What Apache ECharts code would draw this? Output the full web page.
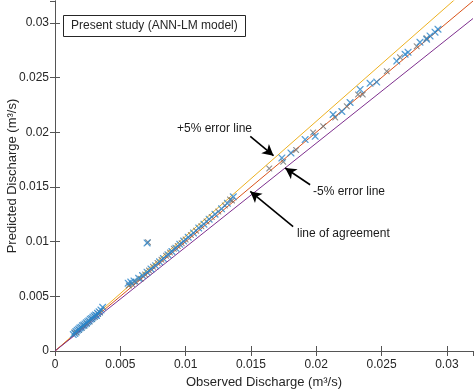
<!DOCTYPE html>
<html>
<head>
<meta charset="utf-8">
<script src="https://cdn.jsdelivr.net/npm/echarts@6/dist/echarts.min.js"></script>
<style>html,body{margin:0;padding:0;background:#fff}#c{width:474px;height:390px}</style>
</head>
<body>
<div id="c"></div>
<script>
// Observed vs predicted discharge (m^3/s) — blue "x" markers
const blueObs = [0.00140,0.00152,0.00160,0.00170,0.00180,0.00190,0.00200,0.00210,0.00220,0.00230,0.00240,0.00250,0.00260,0.00270,0.00280,0.00290,0.00300,0.00310,0.00318,0.00325,0.00338,0.00352,0.00365,
  0.00560,0.00580,0.00605,0.00640,0.00670,0.00705,0.00735,0.00770,0.00800,0.00830,0.00865,0.00895,0.00925,0.00955,0.00985,0.01020,0.01060,0.01100,0.01140,0.01180,0.01225,0.01275,0.01320,0.01365,
  0.00705,
  0.01737,0.01806,0.01915,0.01992,0.02129,0.02196,0.02259,0.02336,0.02412,0.02463,0.02616,0.02680,0.02703,0.02794,0.02845,0.02871,0.02909,0.02932];
const bluePred = [0.00150,0.00160,0.00178,0.00190,0.00200,0.00210,0.00218,0.00230,0.00238,0.00248,0.00258,0.00268,0.00276,0.00290,0.00298,0.00308,0.00320,0.00330,0.00325,0.00345,0.00358,0.00375,0.00400,
  0.00620,0.00630,0.00640,0.00665,0.00690,0.00720,0.00750,0.00780,0.00815,0.00845,0.00880,0.00910,0.00940,0.00975,0.01005,0.01040,0.01080,0.01125,0.01160,0.01205,0.01250,0.01300,0.01350,0.01410,
  0.00988,
  0.01765,0.01811,0.01933,0.01963,0.02162,0.02190,0.02272,0.02392,0.02447,0.02459,0.02651,0.02713,0.02731,0.02823,0.02850,0.02881,0.02915,0.02942];
// gray "x" markers
const grayObs = [0.00148,0.00165,0.00185,0.00205,0.00225,0.00245,0.00265,0.00285,0.00305,0.00330,0.00345,
  0.00565,0.00590,0.00620,0.00655,0.00690,0.00720,0.00750,0.00785,0.00815,0.00850,0.00880,0.00910,0.00940,0.00970,0.01000,0.01040,0.01080,0.01120,0.01160,0.01200,0.01250,0.01300,0.01340,0.01355,
  0.00712,
  0.01640,0.01747,0.01846,0.01976,0.02053,0.02145,0.02234,0.02320,0.02356,0.02540,0.02641,0.02769,0.02845];
const grayPred = [0.00172,0.00168,0.00192,0.00212,0.00230,0.00250,0.00270,0.00290,0.00312,0.00338,0.00352,
  0.00600,0.00610,0.00630,0.00660,0.00700,0.00735,0.00770,0.00805,0.00835,0.00870,0.00900,0.00935,0.00960,0.00985,0.01020,0.01060,0.01100,0.01140,0.01185,0.01225,0.01275,0.01330,0.01385,0.01375,
  0.00995,
  0.01668,0.01731,0.01837,0.01997,0.02055,0.02135,0.02238,0.02346,0.02346,0.02557,0.02685,0.02786,0.02860];
// reference lines: slope factors
const lineNames = ['+5% error line','line of agreement','-5% error line'];
const lineFactors = [1.05, 1.0, 0.95];
const lineColors = ['#EDB120','#D95319','#7E2F8E'];
const axisMax = 0.032;
const tickStep = 0.005;
// annotation arrows [fromX, fromY] -> [toX, toY] in data units
const arrowFrom = [[0.01495,0.01963],[0.01953,0.01520],[0.01823,0.01138]];
const arrowTo   = [[0.01673,0.01786],[0.01762,0.01673],[0.01495,0.01459]];

const FONT = "'Liberation Sans', Arial, Helvetica, sans-serif";
const AX = '#555555';
const TXT = '#262626';
const fmt = v => String(+v.toFixed(4));
const xPath = 'path://M0,0 L1.3,0 L5,3.7 L8.7,0 L10,0 L10,1.3 L6.3,5 L10,8.7 L10,10 L8.7,10 L5,6.3 L1.3,10 L0,10 L0,8.7 L3.7,5 L0,1.3 Z';

const chart = echarts.init(document.getElementById('c'), null, {renderer:'canvas'});
const zip = (a,b) => a.map((v,i)=>[v,b[i]]);

const series = [];
lineFactors.forEach((f,i)=>{
  series.push({
    name: lineNames[i], type:'line', data:[[0,0],[axisMax, axisMax*f]],
    symbol:'none', lineStyle:{color:lineColors[i], width:1}, clip:true, silent:true, z:2
  });
});
series.push({
  type:'scatter', data: zip(grayObs, grayPred), symbol: xPath, symbolSize: 6,
  itemStyle:{color:'#6e6e6e'}, z:3
});
series.push({
  type:'scatter', data: zip(blueObs, bluePred), symbol: xPath, symbolSize: 7,
  itemStyle:{color:'#2b84c9'}, z:4,
  markLine:{
    silent:true, symbol:['none','arrow'], symbolSize:[9,11],
    lineStyle:{color:'#000', width:1.6, type:'solid'}, label:{show:false},
    data: arrowFrom.map((p,i)=>[{coord:p},{coord:arrowTo[i]}])
  }
});

chart.setOption({
  animation:false,
  backgroundColor:'#fff',
  textStyle:{fontFamily:FONT},
  title:{
    text:'Present study (ANN-LM model)', left:63, top:15,
    padding:[5,8,5,8], borderWidth:1, borderColor:TXT,
    textStyle:{fontSize:12, fontWeight:'normal', color:TXT, fontFamily:FONT}
  },
  grid:{left:55, right:1, top:1, bottom:39, containLabel:false, outerBoundsMode:'none'},
  xAxis:[{
    type:'value', min:0, max:axisMax, interval:tickStep, position:'bottom',
    name:'Observed Discharge (m³/s)', nameLocation:'middle', nameGap:24,
    nameTextStyle:{fontSize:13, color:TXT, fontFamily:FONT},
    axisLine:{show:true, lineStyle:{color:AX, width:1}},
    axisTick:{show:true, inside:true, length:5, lineStyle:{color:AX}},
    axisLabel:{fontSize:12, color:TXT, margin:8, formatter:fmt, showMaxLabel:false},
    splitLine:{show:false}
  },{
    type:'value', min:0, max:axisMax, interval:tickStep, position:'top',
    axisLine:{show:true, lineStyle:{color:AX, width:1}},
    axisTick:{show:true, inside:true, length:5, lineStyle:{color:AX}},
    axisLabel:{show:false}, splitLine:{show:false}
  }],
  yAxis:[{
    type:'value', min:0, max:axisMax, interval:tickStep, position:'left',
    name:'Predicted Discharge (m³/s)', nameLocation:'middle', nameGap:36, nameMoveOverlap:false,
    nameTextStyle:{fontSize:13, color:TXT, fontFamily:FONT},
    axisLine:{show:true, lineStyle:{color:AX, width:1}},
    axisTick:{show:true, inside:true, length:5, lineStyle:{color:AX}},
    axisLabel:{fontSize:12, color:TXT, margin:6, formatter:fmt, showMaxLabel:false},
    splitLine:{show:false}
  },{
    type:'value', min:0, max:axisMax, interval:tickStep, position:'right',
    axisLine:{show:true, lineStyle:{color:AX, width:1}},
    axisTick:{show:true, inside:true, length:5, lineStyle:{color:AX}},
    axisLabel:{show:false}, splitLine:{show:false}
  }],
  graphic:[
    {type:'text', left:177, top:123, style:{text:'+5% error line', fontSize:12, fill:'#1a1a1a', fontFamily:FONT}},
    {type:'text', left:313, top:186, style:{text:'-5% error line', fontSize:12, fill:'#1a1a1a', fontFamily:FONT}},
    {type:'text', left:297, top:228, style:{text:'line of agreement', fontSize:12, fill:'#1a1a1a', fontFamily:FONT}}
  ],
  series: series
});
</script>
</body>
</html>
